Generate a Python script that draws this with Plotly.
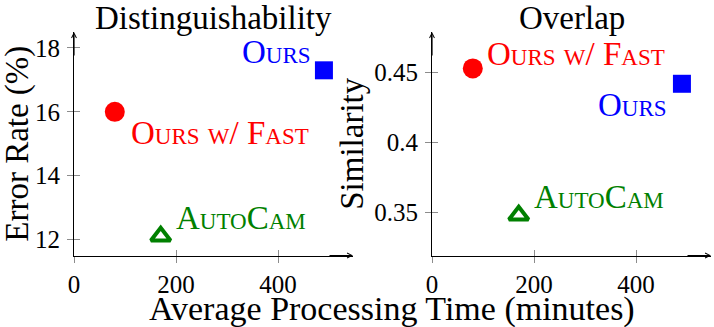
import plotly.graph_objects as go

methods = ["Ours w/ Fast", "Ours", "AutoCam"]
proc_time = [80, 490, 170]
error_rate = [16.0, 17.3, 12.1]
similarity = [0.453, 0.442, 0.348]
colors = ["#ff0000", "#0000ff", "#008000"]
symbols = ["circle", "square", "triangle-up-open"]
x_ticks = [0, 200, 400]
y1_ticks = [12, 14, 16, 18]
y1_labels = ["12", "14", "16", "18"]
y2_ticks = [0.35, 0.40, 0.45]
y2_labels = ["0.35", "0.4", "0.45"]

W, H = 714, 327
FONT = "Liberation Serif"
TICKF = dict(family=FONT, size=25, color="black")

# label placement: (xanchor, xshift px, yshift px)
lab_left = [("left", 14, -21), ("right", -11, 18), ("left", 13, 18)]
lab_right = [("left", 12, 14), ("right", -13, -21), ("left", 13, 18)]

fig = go.Figure()
ann = []


def add_points(xa, ya, yvals, labs):
    for i, m in enumerate(methods):
        sym = symbols[i]
        marker = dict(color=colors[i], symbol=sym)
        if sym == "circle":
            marker.update(size=20)
        elif sym == "square":
            marker.update(size=18)
        else:
            marker.update(size=17, line=dict(width=4, color=colors[i]))
        fig.add_trace(go.Scatter(
            x=[proc_time[i]], y=[yvals[i]], mode="markers",
            marker=marker, xaxis=xa, yaxis=ya, showlegend=False,
            cliponaxis=False, hoverinfo="skip"))
        xan, xs, ys = labs[i]
        ann.append(dict(text=m, x=proc_time[i], y=yvals[i], xref=xa, yref=ya,
                        xanchor=xan, yanchor="middle", xshift=xs, yshift=ys,
                        showarrow=False,
                        font=dict(family=FONT, size=33, color=colors[i], variant="small-caps")))


add_points("x", "y", error_rate, lab_left)
add_points("x2", "y2", similarity, lab_right)
# dummy traces for overlay axes providing the inner half of crossing ticks
fig.add_trace(go.Scatter(x=[None], y=[None], xaxis="x3", yaxis="y3", showlegend=False))
fig.add_trace(go.Scatter(x=[None], y=[None], xaxis="x4", yaxis="y4", showlegend=False))

ydom = [1 - 255.5 / H, 1 - 32 / H]
xdom1 = [74 / W, 353 / W]
xdom2 = [432 / W, 711 / W]
xr = [0, 547]
yr1 = [11.5, 18.5]
yr2 = [0.3193, 0.479]

common = dict(showgrid=False, zeroline=False, fixedrange=True, automargin=False)
axline = dict(showline=True, linecolor="black", linewidth=1.2,
              ticks="outside", ticklen=6, tickwidth=1, tickcolor="#8c8c8c",
              tickfont=TICKF, **common)
inner = dict(showline=False, ticks="inside", ticklen=6, tickwidth=1,
             tickcolor="#8c8c8c", showticklabels=False, **common)

fig.update_layout(
    template="none",
    width=W, height=H, margin=dict(l=0, r=0, t=0, b=0, pad=0),
    paper_bgcolor="white", plot_bgcolor="white",
    font=dict(family=FONT, color="black"),
    xaxis=dict(domain=xdom1, range=xr, anchor="y", tickmode="array", tickvals=x_ticks, **axline),
    yaxis=dict(domain=ydom, range=yr1, anchor="x", tickmode="array", tickvals=y1_ticks,
               ticktext=y1_labels, ticklabelstandoff=2, **axline),
    xaxis2=dict(domain=xdom2, range=xr, anchor="y2", tickmode="array", tickvals=x_ticks, **axline),
    yaxis2=dict(domain=ydom, range=yr2, anchor="x2", tickmode="array", tickvals=y2_ticks,
                ticktext=y2_labels, ticklabelstandoff=2, **axline),
    xaxis3=dict(overlaying="x", range=xr, anchor="y3", tickmode="array", tickvals=x_ticks, **inner),
    yaxis3=dict(overlaying="y", range=yr1, anchor="x3", tickmode="array", tickvals=y1_ticks, **inner),
    xaxis4=dict(overlaying="x2", range=xr, anchor="y4", tickmode="array", tickvals=x_ticks, **inner),
    yaxis4=dict(overlaying="y2", range=yr2, anchor="x4", tickmode="array", tickvals=y2_ticks, **inner),
)

TF = dict(family=FONT, size=33, color="black")
# titles
ann.append(dict(text="Distinguishability", xref="x domain", yref="paper", x=0.5, y=1.0,
                xanchor="center", yanchor="top", yshift=2, showarrow=False, font=TF))
ann.append(dict(text="Overlap", xref="x2 domain", yref="paper", x=0.5, y=1.0,
                xanchor="center", yanchor="top", yshift=2, showarrow=False, font=TF))
# axis titles
ann.append(dict(text="Average Processing Time (minutes)", xref="paper", yref="paper",
                x=392 / W, y=0, xanchor="center", yanchor="bottom", yshift=-3,
                showarrow=False, font=dict(family=FONT, size=34, color="black")))
ann.append(dict(text="Error Rate (%)", xref="paper", yref="y domain", x=18 / W, y=0.5,
                xanchor="center", yanchor="middle", textangle=-90, showarrow=False, font=TF))
ann.append(dict(text="Similarity", xref="paper", yref="y2 domain", x=352 / W, y=0.5,
                xanchor="center", yanchor="middle", textangle=-90, showarrow=False, font=TF))
# axis arrows
for xa, ya in (("x", "y"), ("x2", "y2")):
    ann.append(dict(text="", xref=f"{xa} domain", yref=f"{ya} domain", x=1, y=0,
                    ax=-25, ay=0, showarrow=True, arrowhead=5, arrowsize=0.8, arrowwidth=1.2,
                    arrowcolor="black"))
    ann.append(dict(text="", xref=f"{xa} domain", yref=f"{ya} domain", x=0, y=1,
                    ax=0, ay=25, showarrow=True, arrowhead=5, arrowsize=0.8, arrowwidth=1.2,
                    arrowcolor="black"))
fig.update_layout(annotations=ann)

fig.write_html("out.html", config={"displayModeBar": False},
               post_script="document.body.style.margin='0';document.body.style.overflow='hidden';")
